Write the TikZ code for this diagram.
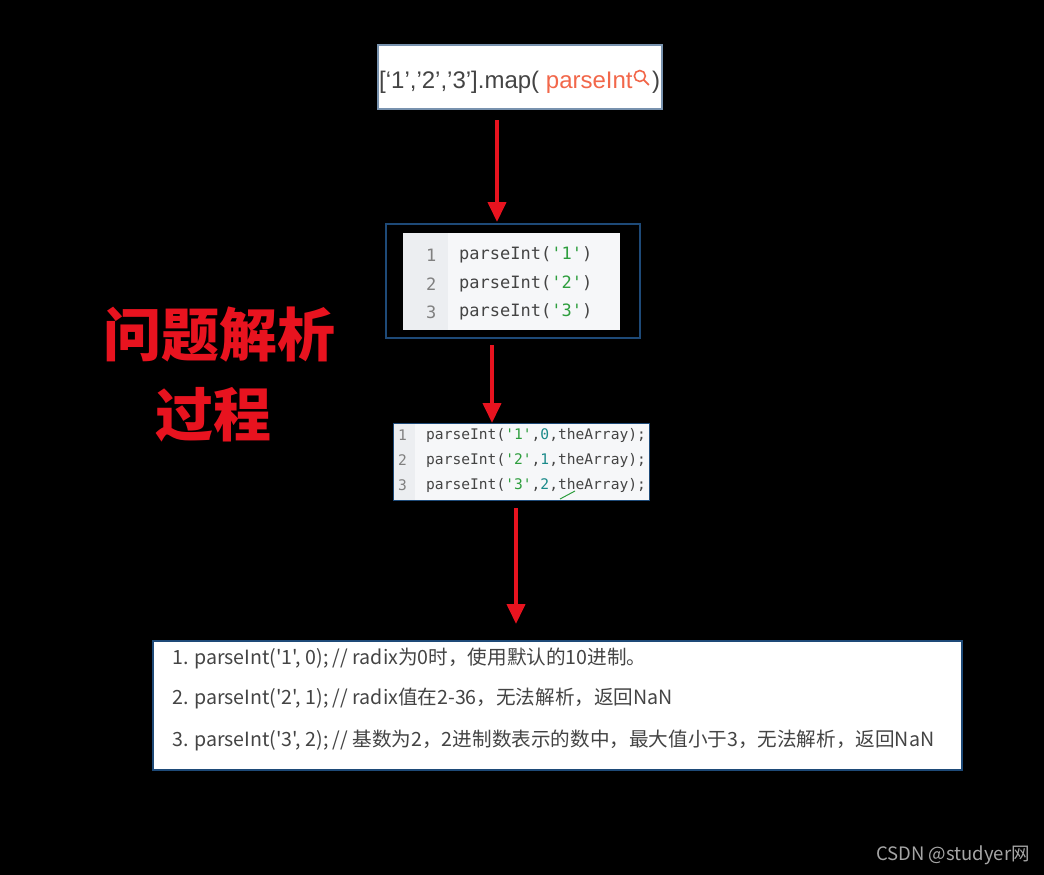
\documentclass[tikz,border=0pt]{standalone}
\usepackage{fontspec}
\setmainfont{Liberation Sans}
\newfontfamily\cjk{Noto Sans CJK SC}
\newfontfamily\codefont{DejaVu Sans Mono}
\usetikzlibrary{arrows.meta}
\definecolor{redarr}{HTML}{E8131F}
\definecolor{coral}{HTML}{F2674A}
\definecolor{txt}{HTML}{444444}
\definecolor{codebg}{HTML}{F6F7F9}
\definecolor{gut}{HTML}{ECEEF1}
\definecolor{glow}{HTML}{1E4A78}
\definecolor{strgreen}{HTML}{2E9E3E}
\definecolor{numteal}{HTML}{1A8A8A}
\tikzset{
  arr/.style={redarr,line width=4pt,-{Triangle[length=20pt,width=18pt]}},
  glowbox/.style={draw=glow,line width=1.5pt},
  code/.style={font=\codefont\fontsize{17}{19}\selectfont,text=txt,anchor=west,inner sep=0},
  codes/.style={font=\codefont\fontsize{14.6}{17}\selectfont,text=txt,anchor=west,inner sep=0},
  lnum/.style={text=gray},
  expl/.style={font=\cjk\fontsize{19.6}{22}\selectfont,text=txt,anchor=west,inner sep=0},
}
\begin{document}
\begin{tikzpicture}[x=1pt,y=-1pt]
\fill[black] (0,0) rectangle (1044,875);
\useasboundingbox (0,0) rectangle (1044,875);
% box 1
\draw[glowbox,fill=white,draw=glow!60] (378,45) rectangle (662,109);
\node[anchor=west,inner sep=0,font=\fontsize{24}{27}\selectfont] (t1) at (379,82)
  {\textcolor{txt}{[‘1’,’2’,’3’].map(} \textcolor{coral}{parseInt}};
\draw[coral,line width=1.6pt] ([xshift=7pt,yshift=6pt]t1.east) circle (5.5pt);
\draw[coral,line width=1.8pt] ([xshift=11pt,yshift=2pt]t1.east) -- ([xshift=16pt,yshift=-3pt]t1.east);
\node[anchor=west,inner sep=0,font=\fontsize{24}{27}\selectfont,text=txt] (t1b) at ([xshift=19pt]t1.east) {)};
\coordinate (a1s) at (497,120);
\coordinate (a1e) at (497,222);
\draw[arr] (a1s) -- (a1e);
% box 2
\draw[glowbox,fill=black] (386,224) rectangle (640,338);
\fill[codebg] (403,233) rectangle (620,330);
\fill[gut] (403,233) rectangle (448,330);
\foreach \n/\y in {1/255,2/284,3/312}{
  \node[code,lnum] (n2\n) at (426,\y) {\n};
  \node[code] (c2\n) at (459,\y) {parseInt(\textcolor{strgreen}{'\n'})};
}
\coordinate (a2s) at (492,345);
\coordinate (a2e) at (492,423);
\draw[arr] (a2s) -- (a2e);
% box 3
\draw[glowbox,fill=codebg,line width=1pt] (393,423) rectangle (649,500);
\fill[gut] (393.5,423.5) rectangle (415,499.5);
\foreach \n/\m/\y in {1/0/435,2/1/460,3/2/485}{
  \node[codes,lnum] (n3\n) at (398,\y) {\n};
  \node[codes] (c3\n) at (426,\y) {parseInt(\textcolor{strgreen}{'\n'},\textcolor{numteal}{\m},theArray);};
}
\draw[strgreen,line width=1pt] (560,499) -- (575,491);
\coordinate (a3s) at (516,508);
\coordinate (a3e) at (516,624);
\draw[arr] (a3s) -- (a3e);
% box 4
\draw[glowbox,fill=white,line width=2pt] (153,641) rectangle (962,770);
\node[expl] (e1) at (172,658) {1. parseInt('1', 0); // radix为0时，使用默认的10进制。};
\node[expl] (e2) at (172,698) {2. parseInt('2', 1); // radix值在2-36，无法解析，返回NaN};
\node[expl] (e3) at (172,740) {3. parseInt('3', 2); // 基数为2，2进制数表示的数中，最大值小于3，无法解析，返回NaN};
% title
\node[font=\cjk\bfseries\fontsize{58}{62}\selectfont,text=redarr] (h1) at (219,335) {问题解析};
\node[font=\cjk\bfseries\fontsize{58}{62}\selectfont,text=redarr] (h2) at (213,415) {过程};
% watermark
\node[anchor=east,inner sep=0,font=\cjk\fontsize{18.5}{20}\selectfont,text=gray!70] (wm) at (1030,855) {CSDN @studyer网};
\end{tikzpicture}
\end{document}
